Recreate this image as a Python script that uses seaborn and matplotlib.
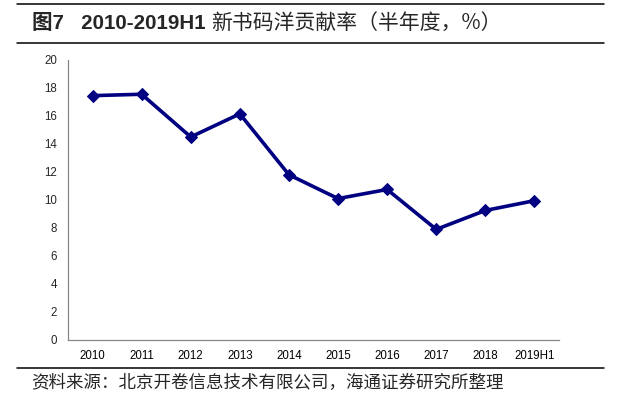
import matplotlib
matplotlib.use("Agg")
import matplotlib.pyplot as plt
from matplotlib.lines import Line2D
import numpy as np
import pandas as pd
import seaborn as sns

# data
periods = ["2010", "2011", "2012", "2013", "2014", "2015", "2016", "2017", "2018", "2019H1"]
rates = [17.45, 17.55, 14.5, 16.15, 11.8, 10.1, 10.75, 7.9, 9.25, 9.95]

df = pd.DataFrame({"period": periods, "rate": rates})

sns.set_style("white")
plt.rcParams["font.family"] = ["Liberation Sans", "Noto Sans CJK SC", "DejaVu Sans"]

fig = plt.figure(figsize=(6.18, 4.05), dpi=100)
ax = fig.add_axes([0.110, 0.1605, 0.7945, 0.6915])

sns.lineplot(data=df, x="period", y="rate", ax=ax, color="#000080", linewidth=2.6,
             marker="D", markersize=6, markeredgecolor="#000080", sort=False)

ax.set_xlim(-0.5, len(periods) - 0.5)
ax.set_ylim(0, 20)
ax.set_yticks(np.arange(0, 21, 2))
ax.set_xlabel("")
ax.set_ylabel("")

# ticks between categories on the x axis
ax.set_xticks(np.arange(-0.5, len(periods), 1), minor=True)
ax.tick_params(axis="x", which="major", length=0, pad=7, labelsize=8.3, labelcolor="black")
ax.tick_params(axis="x", which="minor", length=4, width=0.8, color="#888888", direction="out")
ax.tick_params(axis="y", length=5, width=0.8, color="#888888", direction="out", labelsize=8.3, pad=3)

for side in ["top", "right"]:
    ax.spines[side].set_visible(False)
for side in ["left", "bottom"]:
    ax.spines[side].set_color("#888888")
    ax.spines[side].set_linewidth(0.9)

# title block and source note
fig.add_artist(Line2D([0.027, 0.978], [0.989, 0.989], color="black", linewidth=1.1))
fig.add_artist(Line2D([0.027, 0.978], [0.894, 0.894], color="black", linewidth=1.1))
fig.add_artist(Line2D([0.027, 0.978], [0.091, 0.091], color="black", linewidth=1.1))

t = fig.text(0.052, 0.942, "图7   2010-2019H1", fontsize=14.8, fontweight="bold", va="center",
             family=["Liberation Sans", "Noto Sans CJK SC"])
ax.annotate("新书码洋贡献率（半年度，%）", xy=(1, 0.5), xycoords=t, xytext=(4, 0),
            textcoords="offset points", fontsize=15, va="center", ha="left",
            family=["Noto Sans CJK SC", "Liberation Sans"], annotation_clip=False)
fig.text(0.05, 0.054, "资料来源：北京开卷信息技术有限公司，海通证券研究所整理", fontsize=12.6,
         va="center", family=["Noto Sans CJK SC", "DejaVu Sans"])

fig.savefig("out.png", dpi=100)
